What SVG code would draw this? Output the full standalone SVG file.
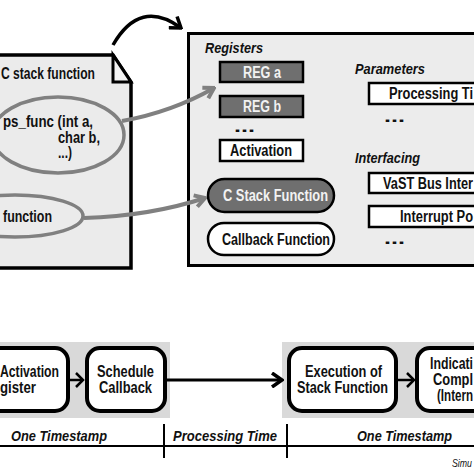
<svg xmlns="http://www.w3.org/2000/svg" width="474" height="474" viewBox="0 0 474 474">
<defs>
<style>
text{font-family:"Liberation Sans",Arial,sans-serif;font-weight:bold;font-size:16px;fill:#111}
.it{font-style:italic;font-size:15.5px}
.lt{fill:#f2f2f2}
.doc{fill:#ebebeb;stroke:#000;stroke-width:3.5;stroke-linejoin:miter}
.ell{fill:none;stroke:#808080;stroke-width:3.5}
.panel{fill:#ececec;stroke:#000;stroke-width:3}
.dark{fill:#6f6f6f;stroke:#000;stroke-width:2.5}
.white{fill:#fff;stroke:#000;stroke-width:2.5}
.band{fill:#d9d9d9}
.step{fill:#fff;stroke:#000;stroke-width:4}
.garrow{fill:none;stroke:#808080;stroke-width:4}
.barrow{fill:none;stroke:#000;stroke-width:3.5}
.line{fill:none;stroke:#000;stroke-width:2}
</style>
<marker id="mg" viewBox="-12 -8 14 16" markerWidth="14" markerHeight="16" refX="0" refY="0" orient="auto" markerUnits="userSpaceOnUse">
<path d="M-10,-6 L0,0 L-10,6" fill="none" stroke="#808080" stroke-width="4"/>
</marker>
<marker id="mb" viewBox="-12 -8 14 16" markerWidth="14" markerHeight="16" refX="0" refY="0" orient="auto" markerUnits="userSpaceOnUse">
<path d="M-10,-7 L0,0 L-10,7" fill="none" stroke="#000" stroke-width="3.5"/>
</marker>
<marker id="ms" viewBox="-10 -8 12 16" markerWidth="12" markerHeight="16" refX="0" refY="0" orient="auto" markerUnits="userSpaceOnUse">
<path d="M-7,-7 L0,0 L-7,7" fill="none" stroke="#000" stroke-width="2.5"/>
</marker>
</defs>
<rect width="474" height="474" fill="#fff"/>

<g id="doc">
<path class="doc" d="M-5,55 L113,55 L131,82 L131,268 L-5,268 Z"/>
<path d="M113,55 L113,82 L131,82 Z" fill="#f4f4f4" stroke="#000" stroke-width="3"/>
<text x="1" y="79" textLength="94" lengthAdjust="spacingAndGlyphs">C stack function</text>
</g>
<g id="ps_func">
<ellipse class="ell" cx="58" cy="135" rx="66" ry="38"/>
<text x="3" y="127" textLength="90" lengthAdjust="spacingAndGlyphs">ps_func (int a,</text>
<text x="58" y="143" textLength="42" lengthAdjust="spacingAndGlyphs">char b,</text>
<text x="58" y="158" textLength="14" lengthAdjust="spacingAndGlyphs">...)</text>
</g>
<g id="function">
<ellipse class="ell" cx="15" cy="216" rx="68" ry="21"/>
<text x="3" y="222" textLength="49" lengthAdjust="spacingAndGlyphs">function</text>
</g>

<g id="panel">
<rect class="panel" x="188.5" y="33.5" width="300" height="232"/>
<text class="it" x="205" y="53" textLength="58" lengthAdjust="spacingAndGlyphs">Registers</text>
<text class="it" x="355" y="74" textLength="70" lengthAdjust="spacingAndGlyphs">Parameters</text>
<text class="it" x="355" y="163" textLength="65" lengthAdjust="spacingAndGlyphs">Interfacing</text>
<text x="234" y="132" textLength="21" lengthAdjust="spacingAndGlyphs">...</text>
<text x="384" y="122" textLength="21" lengthAdjust="spacingAndGlyphs">...</text>
<text x="384" y="244" textLength="21" lengthAdjust="spacingAndGlyphs">...</text>
</g>
<g id="reg_a">
<rect class="dark" x="220" y="62" width="83" height="20"/>
<text class="lt" x="243" y="78" textLength="38" lengthAdjust="spacingAndGlyphs">REG a</text>
</g>
<g id="reg_b">
<rect class="dark" x="220" y="96" width="83" height="21"/>
<text class="lt" x="243" y="112" textLength="38" lengthAdjust="spacingAndGlyphs">REG b</text>
</g>
<g id="activation">
<rect class="white" x="220" y="140" width="83" height="21"/>
<text x="230" y="156" textLength="62" lengthAdjust="spacingAndGlyphs">Activation</text>
</g>
<g id="c_stack">
<rect class="dark" x="208" y="179" width="126" height="33" rx="16.5"/>
<text class="lt" x="223" y="201" textLength="105" lengthAdjust="spacingAndGlyphs">C Stack Function</text>
</g>
<g id="callback">
<rect class="white" x="208" y="223" width="126" height="32" rx="16"/>
<text x="222" y="245" textLength="108" lengthAdjust="spacingAndGlyphs">Callback Function</text>
</g>
<g id="processing">
<rect class="white" x="369" y="83" width="120" height="21"/>
<text x="389" y="99" textLength="84" lengthAdjust="spacingAndGlyphs">Processing Ti</text>
</g>
<g id="vast">
<rect class="white" x="369" y="173" width="120" height="20"/>
<text x="383" y="189" textLength="90" lengthAdjust="spacingAndGlyphs">VaST Bus Inter</text>
</g>
<g id="interrupt">
<rect class="white" x="369" y="206" width="120" height="21"/>
<text x="400" y="222" textLength="73" lengthAdjust="spacingAndGlyphs">Interrupt Po</text>
</g>

<g id="bands">
<rect class="band" x="0" y="342" width="170" height="76"/>
<rect class="band" x="282" y="342" width="192" height="76"/>
</g>
<g id="step_activation">
<rect class="step" x="-20" y="348" width="88" height="63" rx="13"/>
<text x="0" y="377" textLength="59" lengthAdjust="spacingAndGlyphs">Activation</text>
<text x="0" y="393" textLength="36" lengthAdjust="spacingAndGlyphs">gister</text>
</g>
<g id="step_schedule">
<rect class="step" x="87" y="348" width="78" height="63" rx="13"/>
<text x="97" y="377" textLength="57" lengthAdjust="spacingAndGlyphs">Schedule</text>
<text x="99" y="393" textLength="53" lengthAdjust="spacingAndGlyphs">Callback</text>
</g>
<g id="step_execution">
<rect class="step" x="289" y="348" width="107" height="63" rx="13"/>
<text x="305" y="377" textLength="77" lengthAdjust="spacingAndGlyphs">Execution of</text>
<text x="297" y="393" textLength="91" lengthAdjust="spacingAndGlyphs">Stack Function</text>
</g>
<g id="step_indication">
<rect class="step" x="417" y="348" width="80" height="63" rx="13"/>
<text x="430" y="369" textLength="43" lengthAdjust="spacingAndGlyphs">Indicati</text>
<text x="433" y="385" textLength="40" lengthAdjust="spacingAndGlyphs">Compl</text>
<text x="437" y="401" textLength="36" lengthAdjust="spacingAndGlyphs">(Intern</text>
</g>

<g id="timeline">
<line class="line" x1="0" y1="446" x2="474" y2="446"/>
<line class="line" x1="164" y1="424" x2="164" y2="458"/>
<line class="line" x1="287" y1="424" x2="287" y2="458"/>
<text class="it" x="11" y="441" textLength="96" lengthAdjust="spacingAndGlyphs">One Timestamp</text>
<text class="it" x="173" y="441" textLength="104" lengthAdjust="spacingAndGlyphs">Processing Time</text>
<text class="it" x="357" y="441" textLength="95" lengthAdjust="spacingAndGlyphs">One Timestamp</text>
<text class="it" x="452" y="467" textLength="20" lengthAdjust="spacingAndGlyphs" style="font-size:10px;font-weight:normal">Simu</text>
</g>

<g id="connectors">
<path class="barrow" d="M113,45 Q140,-2 181,28" marker-end="url(#mb)"/>
<path class="garrow" d="M122,121 Q172,112 214,88" marker-end="url(#mg)"/>
<path class="garrow" d="M84,218 Q150,216 205,198" marker-end="url(#mg)"/>
<path class="line" style="stroke-width:2.5" d="M68,380 L83,380" marker-end="url(#ms)"/>
<path class="line" style="stroke-width:3" d="M165,380 L282,380" marker-end="url(#mb)"/>
<path class="line" style="stroke-width:2.5" d="M396,380 L414,380" marker-end="url(#ms)"/>
</g>
</svg>
